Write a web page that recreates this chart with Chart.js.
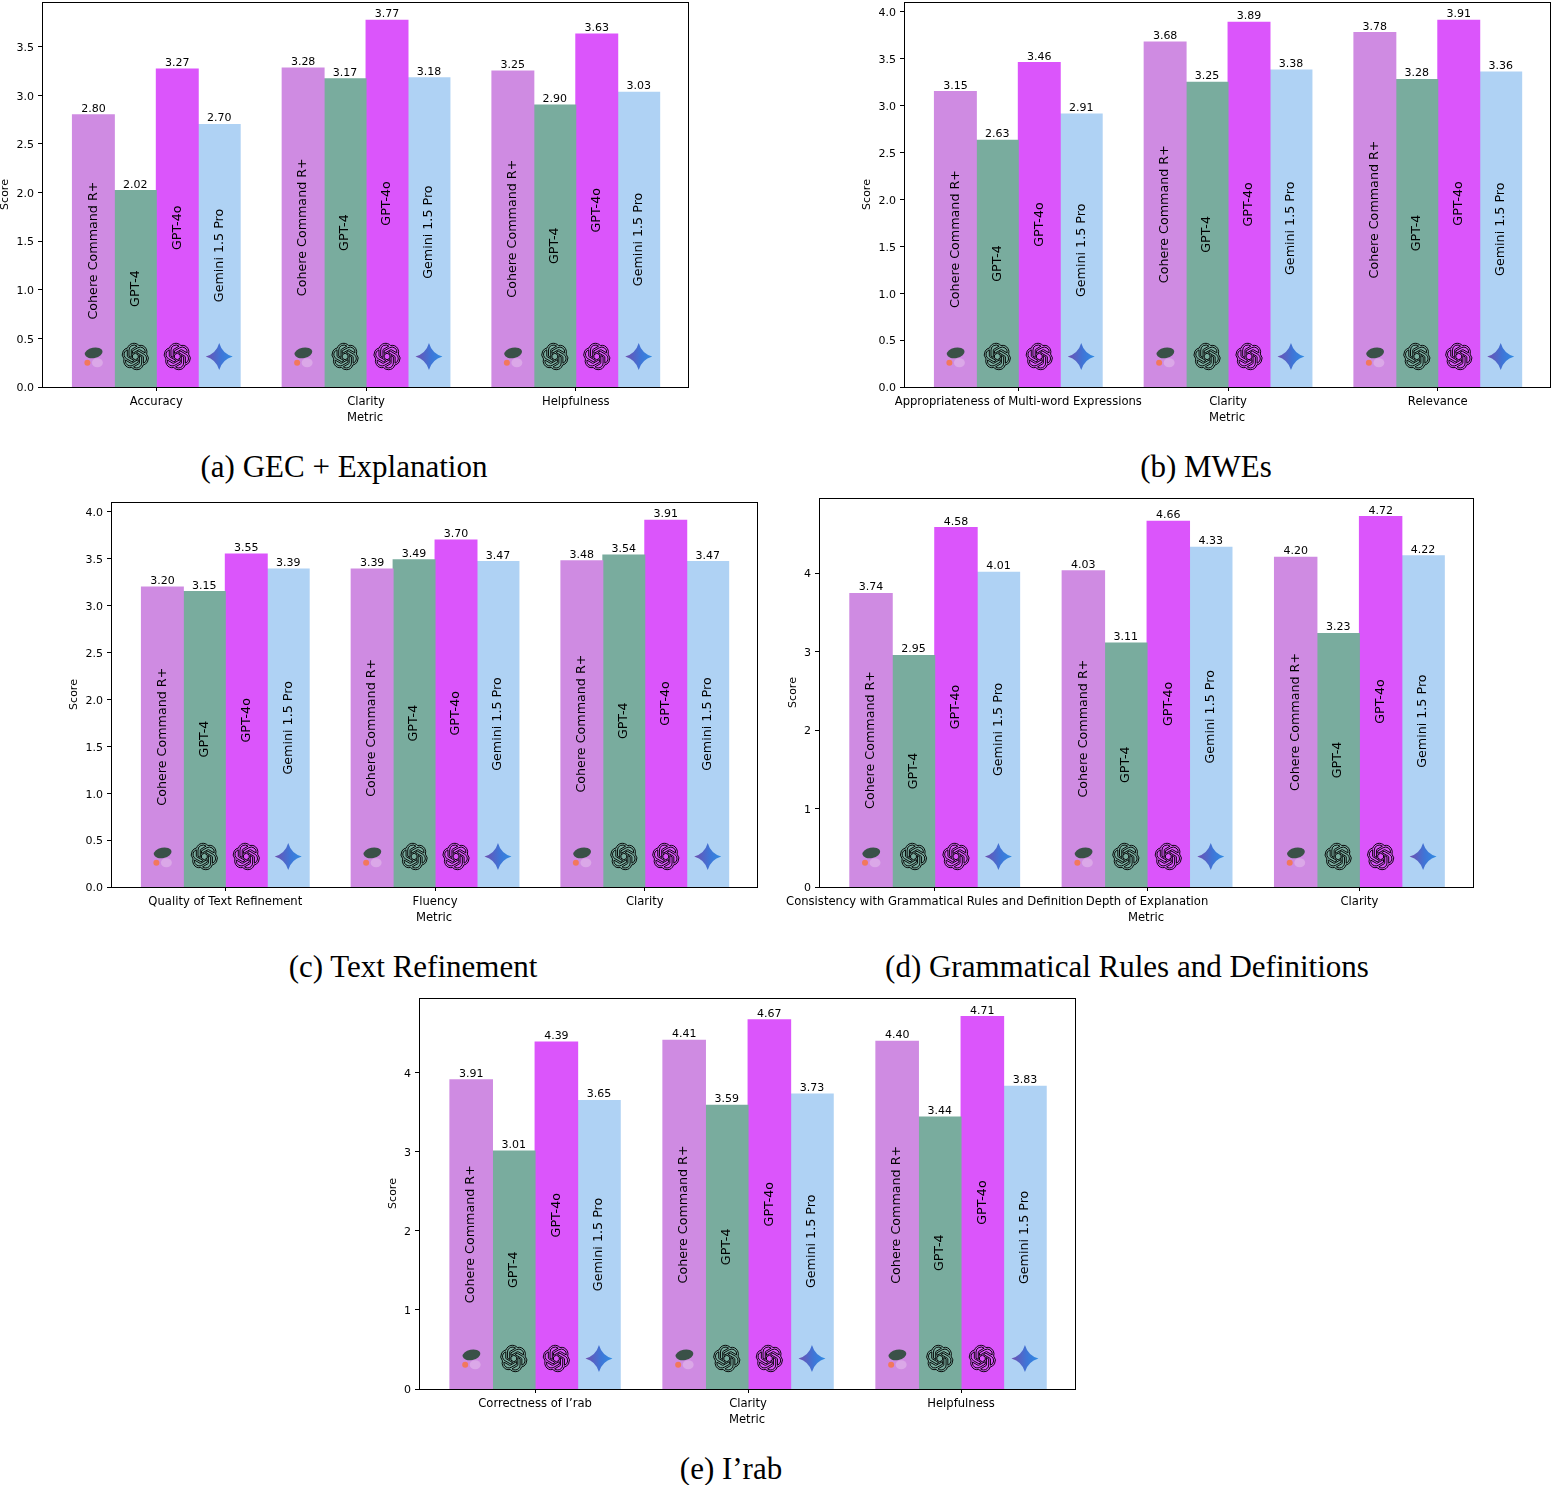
<!DOCTYPE html>
<html>
<head>
<meta charset="utf-8">
<title>Model scores</title>
<script src="https://cdn.jsdelivr.net/npm/chart.js@4"></script>
<style>
  html, body { margin: 0; padding: 0; background: #fff; overflow: hidden; }
  canvas { position: absolute; }
  .caption { position: absolute; transform: translate(-50%, -50%); font: 31px "Liberation Serif", serif; color: #000; white-space: nowrap; }
</style>
</head>
<body>
<script>
// =========================================================================
// 1. DATA
// =========================================================================
var modelNames = ['Cohere Command R+', 'GPT-4', 'GPT-4o', 'Gemini 1.5 Pro'];
var modelColors = ['#CF8BE2', '#79AC9E', '#DB55FB', '#AFD2F4'];
var modelLogos = ['cohere', 'openai', 'openai', 'gemini'];

var metricsA = ['Accuracy', 'Clarity', 'Helpfulness'];
var cohereA = [2.80, 3.28, 3.25];
var gpt4A = [2.02, 3.17, 2.90];
var gpt4oA = [3.27, 3.77, 3.63];
var geminiA = [2.70, 3.18, 3.03];

var metricsB = ['Appropriateness of Multi-word Expressions', 'Clarity', 'Relevance'];
var cohereB = [3.15, 3.68, 3.78];
var gpt4B = [2.63, 3.25, 3.28];
var gpt4oB = [3.46, 3.89, 3.91];
var geminiB = [2.91, 3.38, 3.36];

var metricsC = ['Quality of Text Refinement', 'Fluency', 'Clarity'];
var cohereC = [3.20, 3.39, 3.48];
var gpt4C = [3.15, 3.49, 3.54];
var gpt4oC = [3.55, 3.70, 3.91];
var geminiC = [3.39, 3.47, 3.47];

var metricsD = ['Consistency with Grammatical Rules and Definition', 'Depth of Explanation', 'Clarity'];
var cohereD = [3.74, 4.03, 4.20];
var gpt4D = [2.95, 3.11, 3.23];
var gpt4oD = [4.58, 4.66, 4.72];
var geminiD = [4.01, 4.33, 4.22];

var metricsE = ['Correctness of I’rab', 'Clarity', 'Helpfulness'];
var cohereE = [3.91, 4.41, 4.40];
var gpt4E = [3.01, 3.59, 3.44];
var gpt4oE = [4.39, 4.67, 4.71];
var geminiE = [3.65, 3.73, 3.83];

// =========================================================================
// 2. LAYOUT OF THE PANELS (plot rectangle in page pixels)
// =========================================================================
var panels = [
  { metrics: metricsA, series: [cohereA, gpt4A, gpt4oA, geminiA], step: 0.5, left: 42, right: 688, top: 2, bottom: 387, axisW: 43, caption: '(a) GEC + Explanation', capX: 344, capY: 467 },
  { metrics: metricsB, series: [cohereB, gpt4B, gpt4oB, geminiB], step: 0.5, left: 904, right: 1550, top: 2, bottom: 387, axisW: 43, caption: '(b) MWEs', capX: 1206, capY: 467 },
  { metrics: metricsC, series: [cohereC, gpt4C, gpt4oC, geminiC], step: 0.5, left: 111, right: 757, top: 502, bottom: 887, axisW: 43, caption: '(c) Text Refinement', capX: 413, capY: 967 },
  { metrics: metricsD, series: [cohereD, gpt4D, gpt4oD, geminiD], step: 1, left: 819, right: 1473, top: 498, bottom: 887, axisW: 32, caption: '(d) Grammatical Rules and Definitions', capX: 1127, capY: 967 },
  { metrics: metricsE, series: [cohereE, gpt4E, gpt4oE, geminiE], step: 1, left: 419, right: 1075, top: 998, bottom: 1389, axisW: 32, caption: '(e) I’rab', capX: 731, capY: 1469 }
];

var padLeft = 20, padRight = 10, padTop = 12, axisH = 38;
var fontName = '"DejaVu Sans"';

// =========================================================================
// 3. LOGOS
// =========================================================================
var openaiPath = new Path2D('M22.2819 9.8211a5.9847 5.9847 0 0 0-.5157-4.9108 6.0462 6.0462 0 0 0-6.5098-2.9A6.0651 6.0651 0 0 0 4.9807 4.1818a5.9847 5.9847 0 0 0-3.9977 2.9 6.0462 6.0462 0 0 0 .7427 7.0966 5.98 5.98 0 0 0 .511 4.9107 6.051 6.051 0 0 0 6.5146 2.9001A5.9847 5.9847 0 0 0 13.2599 24a6.0557 6.0557 0 0 0 5.7718-4.2058 5.9894 5.9894 0 0 0 3.9977-2.9001 6.0557 6.0557 0 0 0-.7475-7.0729zm-9.022 12.6081a4.4755 4.4755 0 0 1-2.8764-1.0408l.1419-.0804 4.7783-2.7582a.7948.7948 0 0 0 .3927-.6813v-6.7369l2.02 1.1686a.071.071 0 0 1 .038.052v5.5826a4.504 4.504 0 0 1-4.4945 4.4944zm-9.6607-4.1254a4.4708 4.4708 0 0 1-.5346-3.0137l.142.0852 4.783 2.7582a.7712.7712 0 0 0 .7806 0l5.8428-3.3685v2.3324a.0804.0804 0 0 1-.0332.0615L9.74 19.9502a4.4992 4.4992 0 0 1-6.1408-1.6464zM2.3408 7.8956a4.485 4.485 0 0 1 2.3655-1.9728V11.6a.7664.7664 0 0 0 .3879.6765l5.8144 3.3543-2.0201 1.1685a.0757.0757 0 0 1-.071 0l-4.8303-2.7865A4.504 4.504 0 0 1 2.3408 7.872zm16.5963 3.8558L13.1038 8.364 15.1192 7.2a.0757.0757 0 0 1 .071 0l4.8303 2.7913a4.4944 4.4944 0 0 1-.6765 8.1042v-5.6772a.79.79 0 0 0-.407-.667zm2.0107-3.0231l-.142-.0852-4.7735-2.7818a.7759.7759 0 0 0-.7854 0L9.409 9.2297V6.8974a.0662.0662 0 0 1 .0284-.0615l4.8303-2.7866a4.4992 4.4992 0 0 1 6.6802 4.66zM8.3065 12.863l-2.02-1.1638a.0804.0804 0 0 1-.038-.0567V6.0742a4.4992 4.4992 0 0 1 7.3757-3.4537l-.142.0805L8.704 5.459a.7948.7948 0 0 0-.3927.6813zm1.0976-2.3654l2.602-1.4998 2.6069 1.4998v2.9994l-2.5974 1.4997-2.6067-1.4997Z');

function drawLogo(ctx, kind, x, y) {
  ctx.save();
  ctx.translate(x, y);
  if (kind === 'openai') {
    ctx.scale(1.1, 1.1);
    ctx.translate(-12, -12);
    ctx.strokeStyle = '#000';
    ctx.lineWidth = 0.85;
    ctx.stroke(openaiPath);
  } else if (kind === 'gemini') {
    var r = 13.5;
    var c = 3;
    var grad = ctx.createLinearGradient(-r, 0, r, 0);
    grad.addColorStop(0, '#6F4FB0');
    grad.addColorStop(0.55, '#3F74D6');
    grad.addColorStop(1, '#2F8CE4');
    ctx.fillStyle = grad;
    ctx.beginPath();
    ctx.moveTo(0, -r);
    ctx.quadraticCurveTo(c, -c, r, 0);
    ctx.quadraticCurveTo(c, c, 0, r);
    ctx.quadraticCurveTo(-c, c, -r, 0);
    ctx.quadraticCurveTo(-c, -c, 0, -r);
    ctx.fill();
  } else {
    ctx.fillStyle = '#3A5148';
    ctx.beginPath();
    ctx.ellipse(0.3, -3.7, 9, 5.2, -0.2, 0, Math.PI * 2);
    ctx.fill();
    ctx.fillStyle = '#DBA8E8';
    ctx.beginPath();
    ctx.ellipse(4, 6.3, 5.5, 4.5, 0, 0, Math.PI * 2);
    ctx.fill();
    ctx.fillStyle = '#F2785C';
    ctx.beginPath();
    ctx.arc(-6, 6.3, 3, 0, Math.PI * 2);
    ctx.fill();
  }
  ctx.restore();
}

// =========================================================================
// 4. PLUGIN: frame, y tick labels, value labels, names and logos
// =========================================================================
var barDecorations = {
  id: 'barDecorations',
  afterDatasetsDraw: function (chart) {
    var ctx = chart.ctx;
    chart.data.datasets.forEach(function (ds, d) {
      chart.getDatasetMeta(d).data.forEach(function (bar, i) {
        ctx.save();
        ctx.fillStyle = '#000';
        ctx.textAlign = 'center';
        ctx.textBaseline = 'alphabetic';
        ctx.font = '11px ' + fontName;
        ctx.fillText(ds.data[i].y.toFixed(2), bar.x, bar.y - 3);

        ctx.translate(bar.x, (bar.y + bar.base) / 2);
        ctx.rotate(-Math.PI / 2);
        ctx.textBaseline = 'middle';
        ctx.font = '12.7px ' + fontName;
        ctx.fillText(ds.label, 0, 0);
        ctx.restore();

        drawLogo(ctx, modelLogos[d], bar.x, bar.base - 30);
      });
    });
  },
  afterDraw: function (chart) {
    var a = chart.chartArea;
    var ctx = chart.ctx;
    var yScale = chart.scales.y;
    ctx.save();
    ctx.strokeStyle = '#000';
    ctx.lineWidth = 1;
    ctx.strokeRect(Math.round(a.left) + 0.5, Math.round(a.top) + 0.5, Math.round(a.right - a.left), Math.round(a.bottom - a.top));

    // y tick labels sit a little lower than the library's middle baseline
    ctx.fillStyle = '#000';
    ctx.font = '11px ' + fontName;
    ctx.textAlign = 'right';
    ctx.textBaseline = 'middle';
    yScale.ticks.forEach(function (t, i) {
      var txt = chart.options.panelStep < 1 ? t.value.toFixed(1) : String(t.value);
      ctx.fillText(txt, a.left - 8, yScale.getPixelForTick(i) + 1.5);
    });
    ctx.restore();
  }
};

// =========================================================================
// 5. BUILD THE PANELS
// =========================================================================
function crearPanel(p) {
  var canvas = document.createElement('canvas');
  var plotW = p.right - p.left;
  var plotH = p.bottom - p.top;
  canvas.width = padLeft + p.axisW + plotW + padRight;
  canvas.height = padTop + plotH + axisH;
  canvas.style.left = (p.left - p.axisW - padLeft) + 'px';
  canvas.style.top = (p.top - padTop) + 'px';
  document.body.appendChild(canvas);

  var allValues = [].concat.apply([], p.series);
  var topValue = Math.max.apply(null, allValues) * 1.05;

  var datasets = p.series.map(function (vals, s) {
    return {
      label: modelNames[s],
      data: vals.map(function (v, i) { return { x: i, y: v }; }),
      backgroundColor: modelColors[s],
      borderWidth: 0,
      inflateAmount: 0.5,
      barPercentage: 1,
      categoryPercentage: 0.8
    };
  });

  new Chart(canvas.getContext('2d'), {
    type: 'bar',
    data: { datasets: datasets },
    plugins: [barDecorations],
    options: {
      panelStep: p.step,
      responsive: false,
      animation: false,
      layout: { padding: { left: padLeft, right: padRight, top: padTop, bottom: 0 } },
      plugins: { legend: { display: false }, tooltip: { enabled: false }, title: { display: false } },
      scales: {
        x: {
          type: 'linear',
          offset: false,
          min: -0.545,
          max: 2.535,
          afterFit: function (scale) { scale.height = axisH; },
          grid: { offset: false, drawOnChartArea: false, tickLength: 4, tickColor: '#000', tickWidth: 1 },
          border: { color: '#000' },
          ticks: {
            stepSize: 1,
            includeBounds: false,
            autoSkip: false,
            maxRotation: 0,
            minRotation: 0,
            padding: 4,
            color: '#000',
            font: { family: fontName, size: 11.6 },
            callback: function (v) { return p.metrics[v]; }
          },
          title: { display: true, text: 'Metric', color: '#000', font: { family: fontName, size: 11.6 }, padding: { top: 0, bottom: 0 } }
        },
        y: {
          min: 0,
          max: topValue,
          afterFit: function (scale) { scale.width = p.axisW; },
          grid: { drawOnChartArea: false, tickLength: 4, tickColor: '#000', tickWidth: 1 },
          border: { color: '#000' },
          ticks: {
            stepSize: p.step,
            includeBounds: false,
            display: false
          },
          title: { display: true, text: 'Score', color: '#000', font: { family: fontName, size: 11 }, padding: 0 }
        }
      }
    }
  });

  var cap = document.createElement('div');
  cap.className = 'caption';
  cap.textContent = p.caption;
  cap.style.left = p.capX + 'px';
  cap.style.top = p.capY + 'px';
  document.body.appendChild(cap);
}

panels.forEach(crearPanel);
</script>
</body>
</html>
